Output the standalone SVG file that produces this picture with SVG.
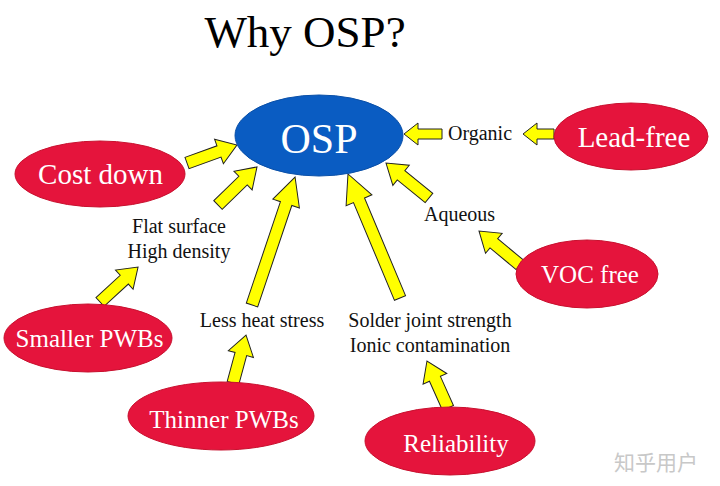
<svg xmlns="http://www.w3.org/2000/svg" width="720" height="486" viewBox="0 0 720 486">
<style>
.red{fill:#e5143c;stroke:#c8102e;stroke-width:1}
.blue{fill:#0a5cc2;stroke:#0a50a8;stroke-width:1}
.nt{font-family:"Liberation Serif","Times New Roman",serif;fill:#ffffff;text-anchor:middle}
.lb{font-family:"Liberation Serif","Times New Roman",serif;fill:#111111;text-anchor:middle;font-size:20px}
.arr{fill:#ffff00;stroke:#222222;stroke-width:1;stroke-linejoin:miter}
</style>
<rect width="720" height="486" fill="#ffffff"/>
<text x="305" y="47" font-family="Liberation Serif, Times New Roman, serif" font-size="45" fill="#000000" text-anchor="middle">Why OSP?</text>

<g id="connectors">
  <path class="arr" transform="translate(442,134) rotate(180)" d="M0,-5 L24,-5 L24,-11 L38,0 L24,11 L24,5 L0,5 Z"/>
  <path class="arr" transform="translate(554,134) rotate(180)" d="M0,-5 L17,-5 L17,-11 L31,0 L17,11 L17,5 L0,5 Z"/>
  <path class="arr" transform="translate(429,198) rotate(-140.9)" d="M0,-6 L36,-6 L36,-13 L55.4,0 L36,13 L36,6 L0,6 Z"/>
  <path class="arr" transform="translate(520,265) rotate(-140.3)" d="M0,-6 L34,-6 L34,-13 L53.3,0 L34,13 L34,6 L0,6 Z"/>
  <path class="arr" transform="translate(187,163) rotate(-19.8)" d="M0,-6 L34,-6 L34,-13 L53.1,0 L34,13 L34,6 L0,6 Z"/>
  <path class="arr" transform="translate(218,205) rotate(-44.3)" d="M0,-6 L35,-6 L35,-13 L54.5,0 L35,13 L35,6 L0,6 Z"/>
  <path class="arr" transform="translate(100,302) rotate(-42.6)" d="M0,-6 L33,-6 L33,-13 L51.7,0 L33,13 L33,6 L0,6 Z"/>
  <path class="arr" transform="translate(252,305) rotate(-71.4)" d="M0,-6 L107,-6 L107,-14 L135,0 L107,14 L107,6 L0,6 Z"/>
  <path class="arr" transform="translate(400,298) rotate(-112.75)" d="M0,-6 L106,-6 L106,-14 L134.5,0 L106,14 L106,6 L0,6 Z"/>
  <path class="arr" transform="translate(233,383) rotate(-74.8)" d="M0,-6 L30,-6 L30,-13 L49.7,0 L30,13 L30,6 L0,6 Z"/>
  <path class="arr" transform="translate(448,408) rotate(-114.1)" d="M0,-6 L32,-6 L32,-13 L51.5,0 L32,13 L32,6 L0,6 Z"/>
</g>

<g id="osp">
  <ellipse class="blue" cx="319" cy="135.5" rx="84" ry="40.5"/>
  <text class="nt" x="319" y="153" font-size="42">OSP</text>
</g>
<g id="lead-free">
  <ellipse class="red" cx="631" cy="136.5" rx="77" ry="33.5"/>
  <text class="nt" x="634" y="147" font-size="29">Lead-free</text>
</g>
<g id="voc-free">
  <ellipse class="red" cx="587" cy="274" rx="71" ry="34"/>
  <text class="nt" x="590" y="283" font-size="25">VOC free</text>
</g>
<g id="cost-down">
  <ellipse class="red" cx="100" cy="174" rx="85" ry="33"/>
  <text class="nt" x="100.5" y="184" font-size="29">Cost down</text>
</g>
<g id="smaller-pwbs">
  <ellipse class="red" cx="88" cy="338" rx="84" ry="34"/>
  <text class="nt" x="89.5" y="347" font-size="25">Smaller PWBs</text>
</g>
<g id="thinner-pwbs">
  <ellipse class="red" cx="221" cy="416" rx="93" ry="34"/>
  <text class="nt" x="224" y="428" font-size="25">Thinner PWBs</text>
</g>
<g id="reliability">
  <ellipse class="red" cx="450" cy="441" rx="85" ry="34"/>
  <text class="nt" x="456" y="452" font-size="25">Reliability</text>
</g>

<g id="organic"><text class="lb" x="480" y="140">Organic</text></g>
<g id="aqueous"><text class="lb" x="459.5" y="221">Aqueous</text></g>
<g id="flat-surface">
  <text class="lb" x="179" y="233">Flat surface</text>
  <text class="lb" x="179" y="258">High density</text>
</g>
<g id="less-heat-stress"><text class="lb" x="262" y="327">Less heat stress</text></g>
<g id="solder-joint">
  <text class="lb" x="430" y="327">Solder joint strength</text>
  <text class="lb" x="430" y="352">Ionic contamination</text>
</g>
<text x="656" y="470" font-family="Noto Sans CJK SC, sans-serif" font-size="21" fill="#c8c8c8" text-anchor="middle">知乎用户</text>
</svg>
